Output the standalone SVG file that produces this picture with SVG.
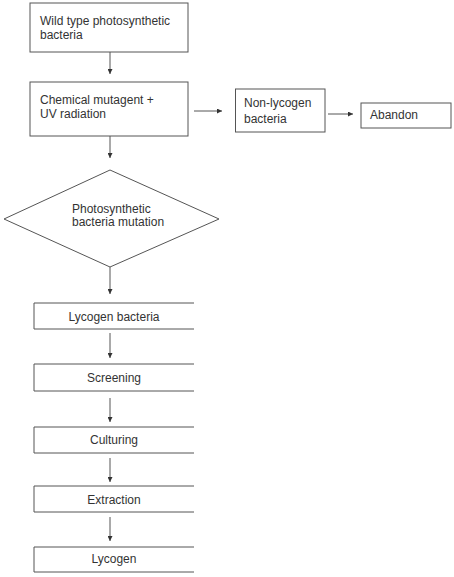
<svg xmlns="http://www.w3.org/2000/svg" width="454" height="577" viewBox="0 0 454 577">
<defs>
<marker id="ah" viewBox="0 0 10 10" refX="10" refY="5" markerWidth="5" markerHeight="5" markerUnits="userSpaceOnUse" orient="auto">
<path d="M0,0 L10,5 L0,10 Z" fill="#333"/>
</marker>
</defs>
<style>
.box{fill:#fff;stroke:#555;stroke-width:1}
.open{fill:none;stroke:#555;stroke-width:1}
.t{font-family:"Liberation Sans",Arial,sans-serif;font-size:12px;fill:#333}
.m{text-anchor:middle}
.c{fill:none;stroke:#555;stroke-width:1;marker-end:url(#ah)}
</style>
<rect width="454" height="577" fill="#fff"/>
<g id="connectors">
<line class="c" x1="110" y1="52" x2="110" y2="74"/>
<line class="c" x1="110" y1="136" x2="110" y2="158"/>
<line class="c" x1="194" y1="111" x2="222" y2="111"/>
<line class="c" x1="328" y1="114" x2="353" y2="114"/>
<line class="c" x1="110" y1="267" x2="110" y2="294"/>
<line class="c" x1="110" y1="333" x2="110" y2="358"/>
<line class="c" x1="110" y1="398" x2="110" y2="422"/>
<line class="c" x1="110" y1="458" x2="110" y2="482"/>
<line class="c" x1="110" y1="517" x2="110" y2="541"/>
</g>
<g id="wild">
<rect class="box" x="30" y="3" width="158" height="49"/>
<text class="t" x="40" y="25">Wild type photosynthetic</text>
<text class="t" x="40" y="39">bacteria</text>
</g>
<g id="mutagent">
<rect class="box" x="30" y="82" width="158" height="54"/>
<text class="t" x="40" y="104">Chemical mutagent +</text>
<text class="t" x="40" y="118">UV radiation</text>
</g>
<g id="nonlycogen">
<rect class="box" x="235.5" y="89" width="89.5" height="43"/>
<text class="t" x="244" y="107">Non-lycogen</text>
<text class="t" x="244" y="123">bacteria</text>
</g>
<g id="abandon">
<rect class="box" x="361" y="103" width="90" height="25"/>
<text class="t" x="370" y="119">Abandon</text>
</g>
<g id="mutation">
<polygon class="box" points="110,170 219,219 110,267 4,219"/>
<text class="t" x="72" y="213">Photosynthetic</text>
<text class="t" x="72" y="226">bacteria mutation</text>
</g>
<g id="lycogenbacteria">
<path class="open" d="M194,303 H34 V329 H194"/>
<text class="t m" x="114" y="321">Lycogen bacteria</text>
</g>
<g id="screening">
<path class="open" d="M194,364 H34 V391 H194"/>
<text class="t m" x="114" y="382">Screening</text>
</g>
<g id="culturing">
<path class="open" d="M194,427 H34 V453 H194"/>
<text class="t m" x="114" y="444">Culturing</text>
</g>
<g id="extraction">
<path class="open" d="M194,486 H34 V512 H194"/>
<text class="t m" x="114" y="504">Extraction</text>
</g>
<g id="lycogen">
<path class="open" d="M194,547 H34 V572 H194"/>
<text class="t m" x="114" y="563">Lycogen</text>
</g>
</svg>
